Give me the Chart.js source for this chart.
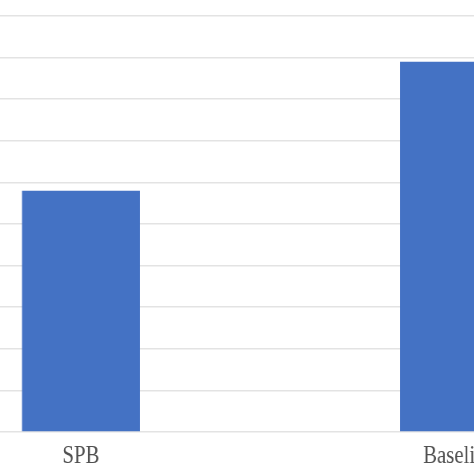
<!DOCTYPE html>
<html>
<head>
<meta charset="utf-8">
<script src="https://cdn.jsdelivr.net/npm/chart.js@4/dist/chart.umd.min.js"></script>
<style>
  html, body { margin: 0; padding: 0; background: #fff; overflow: hidden; width: 474px; height: 474px; }
  /* the reference is a cropped, horizontally squeezed view of a wider chart */
  #chart { position: absolute; left: -108px; top: 0; transform-origin: 0 0; transform: scaleX(0.8); }
</style>
</head>
<body>
<canvas id="chart" width="945" height="474"></canvas>
<script>
// categories and values (y scale 0..10, gridline every 1)
let labels = ['SPB', 'Baseline'];
let values = [5.8, 8.9];
let yMin = 0, yMax = 10, yStep = 1;

let options = {
  type: 'bar',
  data: {
    labels: labels,
    datasets: [{
      data: values,
      backgroundColor: '#4472C4',
      borderWidth: 0,
      categoryPercentage: 1,
      barPercentage: 0.312
    }]
  },
  options: {
    responsive: false,
    animation: false,
    layout: { padding: { top: 16, bottom: 0, left: 0, right: 0 } },
    plugins: { legend: { display: false }, tooltip: { enabled: false } },
    scales: {
      x: {
        grid: { display: false, drawTicks: false },
        border: { display: false },
        ticks: {
          color: '#505050',
          font: { family: '"Liberation Serif", "DejaVu Serif", serif', size: 26 },
          padding: 8.8,
          maxRotation: 0,
          autoSkip: false
        },
        // pin the axis height so the plot bottom lands where the reference has it
        afterFit: function(scale) { scale.height = 42; }
      },
      y: {
        min: yMin,
        max: yMax,
        grid: { color: '#e3e3e3', lineWidth: 1.5, drawTicks: false },
        border: { display: false },
        ticks: { display: false, stepSize: yStep }
      }
    }
  }
};

let chart = new Chart(document.getElementById('chart'), options);
</script>
</body>
</html>
